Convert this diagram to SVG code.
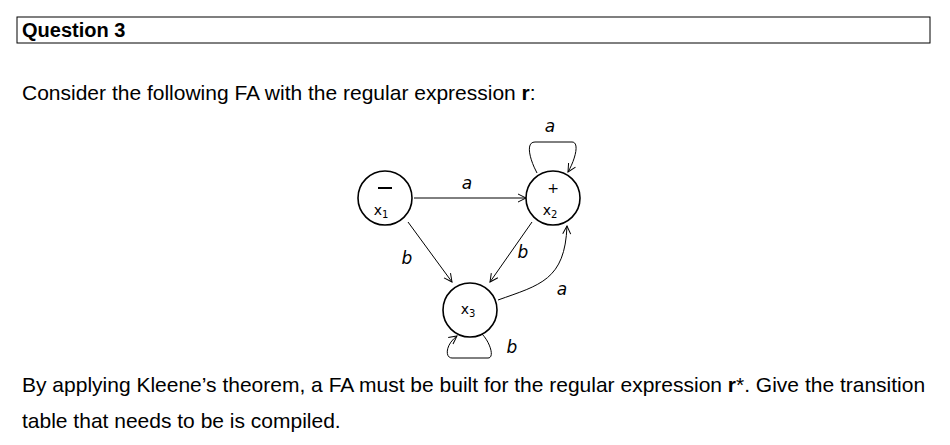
<svg xmlns="http://www.w3.org/2000/svg" width="950" height="445" viewBox="0 0 950 445">
<defs><marker id="ar" markerWidth="10" markerHeight="10" refX="9" refY="5" orient="auto" markerUnits="userSpaceOnUse"><path d="M1,1 L9,5 L1,9" fill="none" stroke="#000" stroke-width="1"/></marker></defs>
<style>
.t{font-family:"Liberation Sans",Arial,sans-serif;font-size:21px;fill:#000}
.l{font-family:"DejaVu Sans",sans-serif;font-size:17px;font-style:italic;fill:#000}
.n{fill:#fff;stroke:#000;stroke-width:1.6}
.e{fill:none;stroke:#000;stroke-width:1}
.s{font-family:"DejaVu Sans",sans-serif;font-size:14px;fill:#000}
</style>
<rect width="950" height="445" fill="#fff"/>
<rect x="17" y="17" width="913" height="26" fill="none" stroke="#000" stroke-width="1"/>
<text x="22" y="37" class="t" style="font-weight:bold;font-size:20px">Question 3</text>
<text x="22" y="100" class="t">Consider the following FA with the regular expression <tspan font-weight="bold">r</tspan>:</text>
<g id="edges">
<path class="e" d="M414,198 L526,198" marker-end="url(#ar)"/>
<path class="e" d="M408,222 L452,282" marker-end="url(#ar)"/>
<path class="e" d="M532,222 L490,282" marker-end="url(#ar)"/>
<path class="e" d="M498,300 C540,285 565,280 567,226" marker-end="url(#ar)"/>
<path class="e" d="M537,173 C530,160 525,142 535,142 L572,142 C580,142 575,160 568,172" marker-end="url(#ar)"/>
<path class="e" d="M482,334 C490,342 495,358 488,358 L452,358 C445,358 445,345 457,336" marker-end="url(#ar)"/>
<text x="467" y="189" class="l" text-anchor="middle">a</text>
<text x="407" y="264" class="l" text-anchor="middle">b</text>
<text x="523" y="258" class="l" text-anchor="middle">b</text>
<text x="562" y="295" class="l" text-anchor="middle">a</text>
<text x="550" y="132" class="l" text-anchor="middle">a</text>
<text x="512" y="353" class="l" text-anchor="middle">b</text>
</g>
<g id="x1"><circle class="n" cx="385" cy="198" r="27"/><line x1="378" y1="188" x2="392" y2="188" stroke="#000" stroke-width="2"/><text x="381" y="215" class="s" text-anchor="middle">x<tspan font-size="10" dy="3">1</tspan></text></g>
<g id="x2"><circle class="n" cx="553" cy="198" r="27"/><text x="553" y="193" class="s" text-anchor="middle">+</text><text x="550" y="215" class="s" text-anchor="middle">x<tspan font-size="10" dy="3">2</tspan></text></g>
<g id="x3"><circle class="n" cx="470" cy="310" r="27"/><text x="468" y="314" class="s" text-anchor="middle">x<tspan font-size="10" dy="3">3</tspan></text></g>
<text x="22" y="392" class="t">By applying Kleene’s theorem, a FA must be built for the regular expression <tspan font-weight="bold">r</tspan>*. Give the transition</text>
<text x="22" y="428" class="t">table that needs to be is compiled.</text>
</svg>
